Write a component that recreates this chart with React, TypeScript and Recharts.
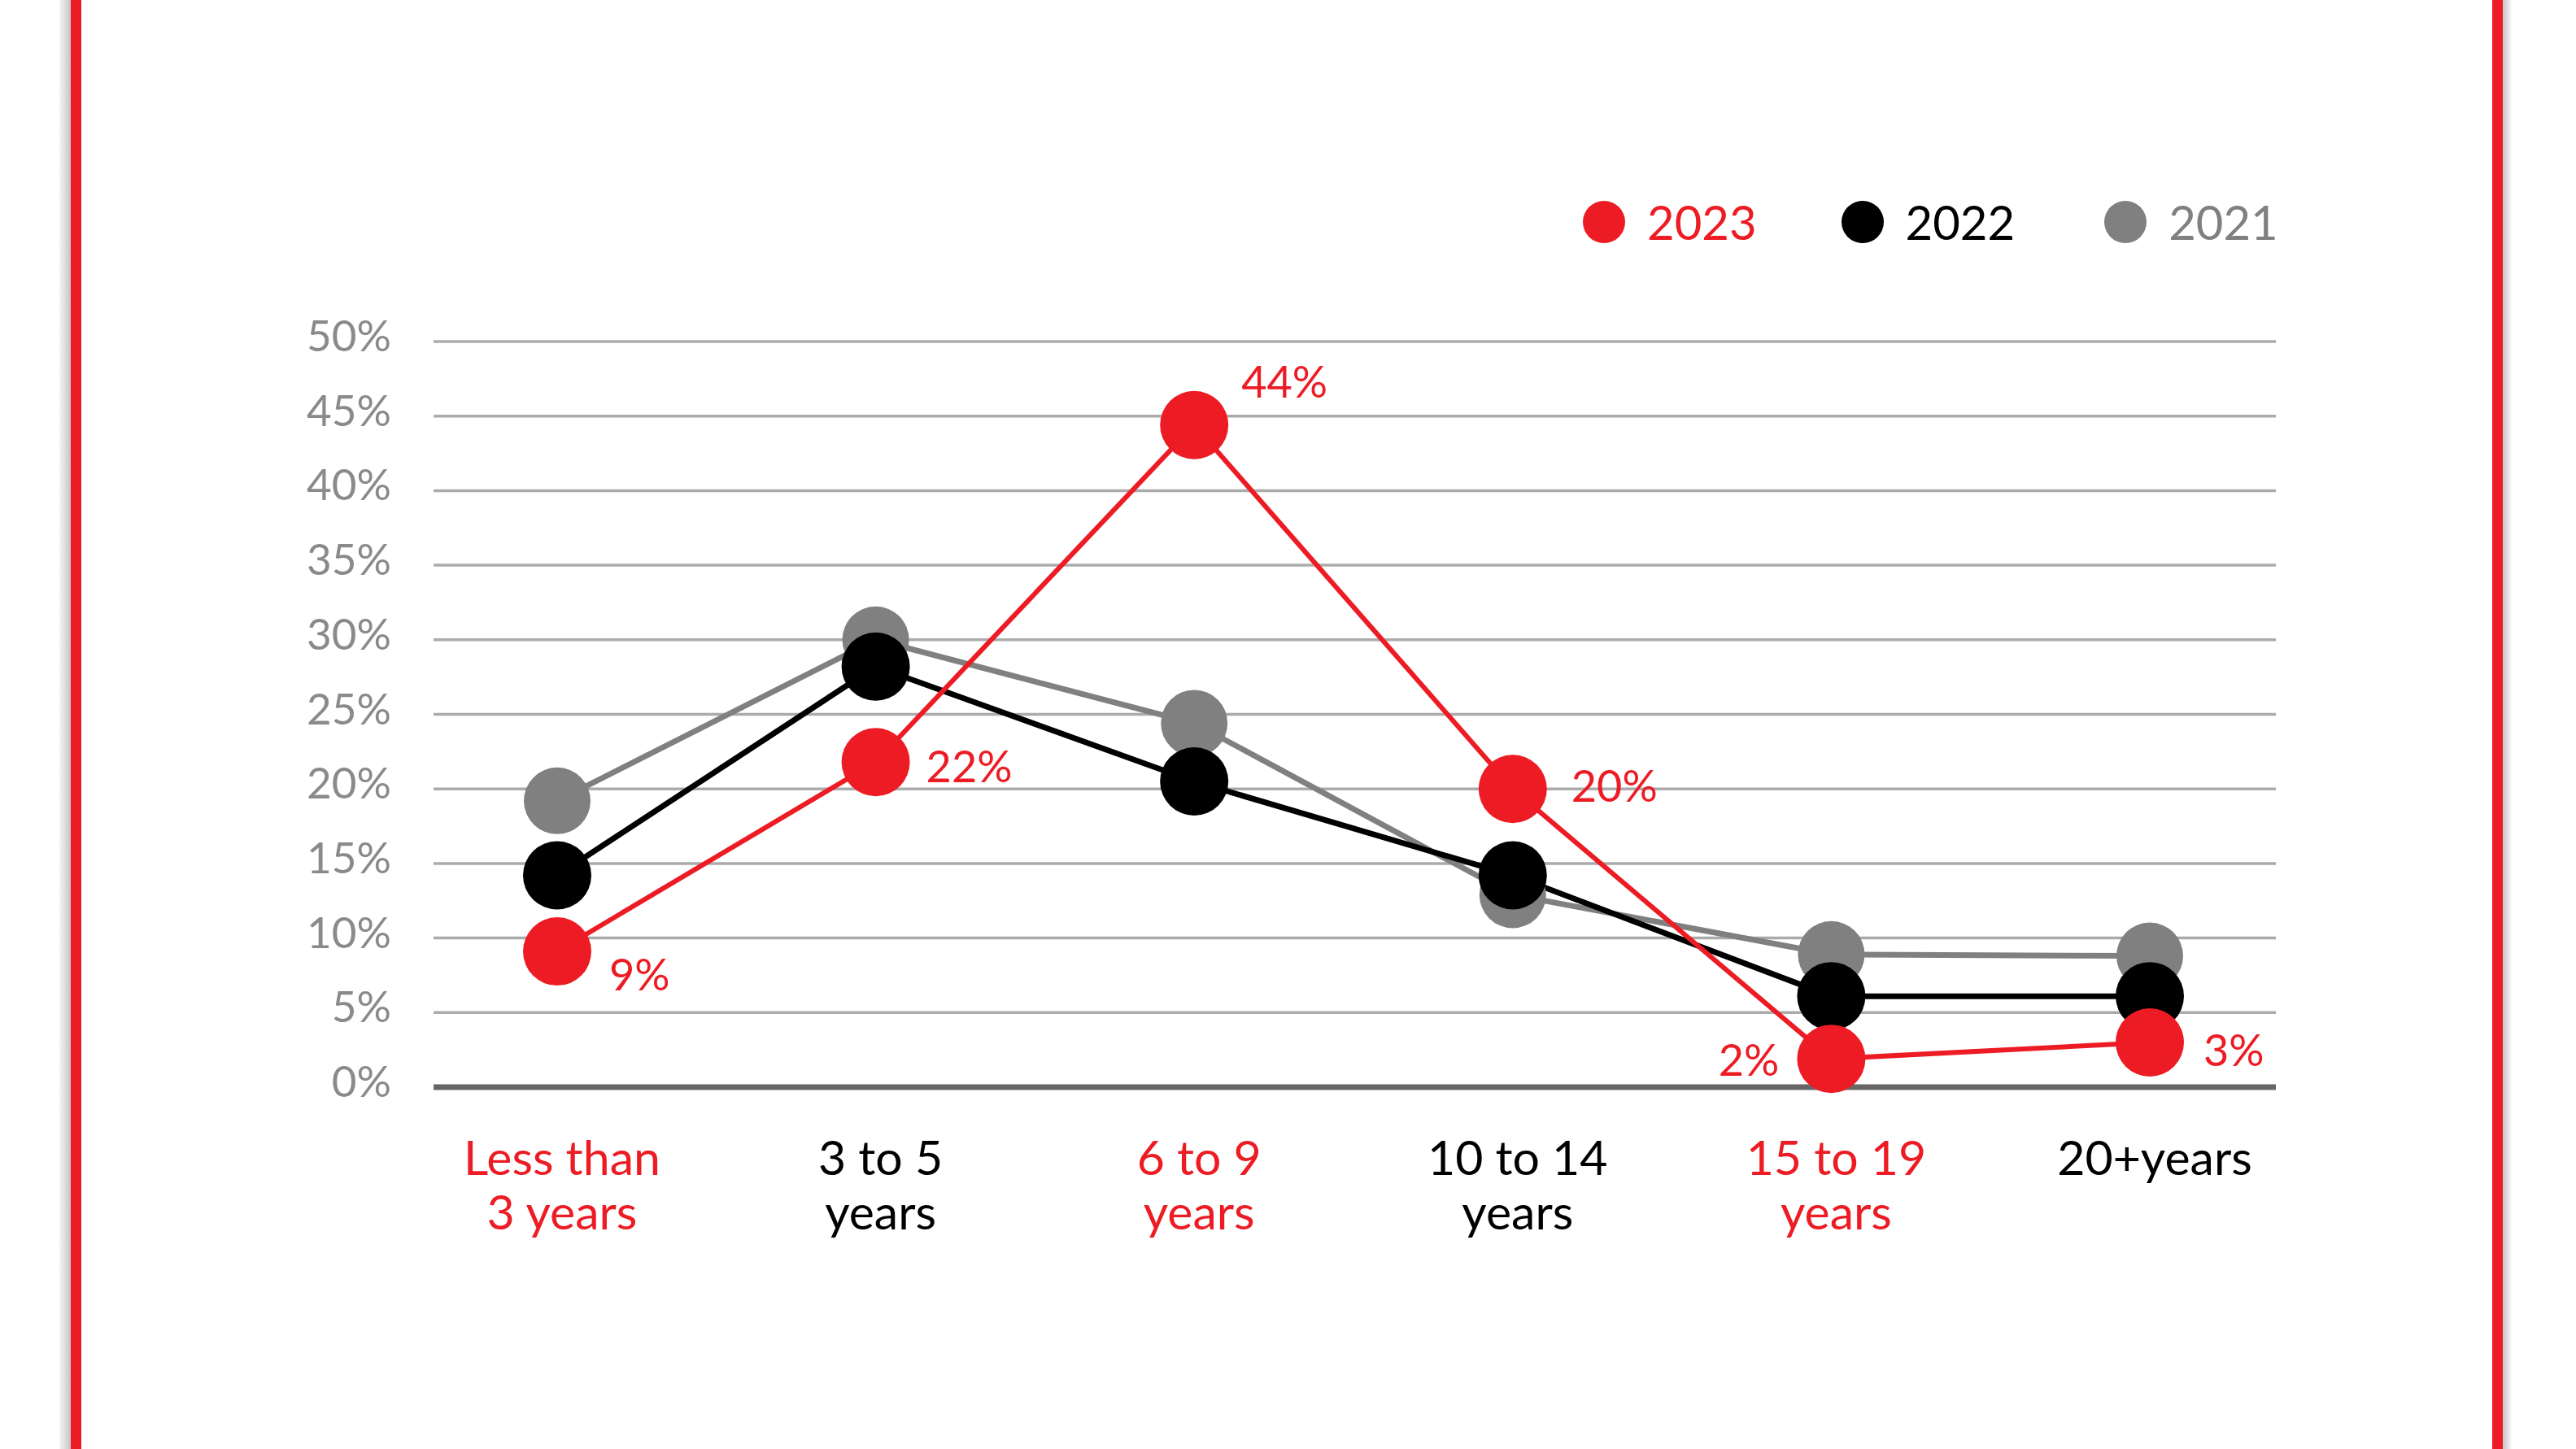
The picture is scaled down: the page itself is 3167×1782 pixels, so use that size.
import { LineChart, Line, XAxis, YAxis, CartesianGrid, Legend, LabelList } from "recharts"

// tenure buckets on the x axis
const categories = ["Less than 3 years", "3 to 5 years", "6 to 9 years", "10 to 14 years", "15 to 19 years", "20+years"]
const tickLines = [["Less than", "3 years"], ["3 to 5", "years"], ["6 to 9", "years"], ["10 to 14", "years"], ["15 to 19", "years"], ["20+years"]]

// share of respondents, %
const values2023 = [9.1, 21.8, 44.4, 20.0, 1.9, 3.0]
const values2022 = [14.2, 28.2, 20.5, 14.2, 6.1, 6.1]
const values2021 = [19.2, 30.0, 24.4, 12.9, 8.9, 8.8]

const yTicks = [0, 5, 10, 15, 20, 25, 30, 35, 40, 45, 50]

const RED = "#ED1C24"
const BLACK = "#000000"
const GREY = "#808080"
const FONT = "Lato, 'Open Sans', sans-serif"

const tickColors = [RED, BLACK, RED, BLACK, RED, BLACK]
// where each 2023 value label sits relative to its dot
const labelPos = [
  { dx: 64, dy: 48, anchor: "start" },
  { dx: 62, dy: 25, anchor: "start" },
  { dx: 58, dy: -34, anchor: "start" },
  { dx: 72, dy: 16, anchor: "start" },
  { dx: -64, dy: 21, anchor: "end" },
  { dx: 66, dy: 29, anchor: "start" },
]
const legendGaps = [104, 110, 0]

const data = categories.map((cat, i) => ({
  cat,
  y2023: values2023[i],
  y2022: values2022[i],
  y2021: values2021[i],
}))

function XTick(props: any) {
  const { x, y, payload } = props
  const i = payload.index
  return (
    <text textAnchor="middle" fill={tickColors[i]} fontFamily={FONT} fontSize={59}>
      {tickLines[i].map((l, j) => (
        <tspan key={j} x={x + 6} y={y + 108 + j * 67}>
          {l}
        </tspan>
      ))}
    </text>
  )
}

function YTick(props: any) {
  const { x, y, payload } = props
  return (
    <text x={x} y={y + 12} textAnchor="end" fill="#8a8a8a" fontFamily={FONT} fontSize={53}>
      {payload.value}%
    </text>
  )
}

function RedLabel(props: any) {
  const { x, y, value, index } = props
  const p = labelPos[index]
  return (
    <text x={x + p.dx} y={y + p.dy} textAnchor={p.anchor} fill={RED} fontFamily={FONT} fontSize={54}>
      {Math.round(value)}%
    </text>
  )
}

function LegendContent(props: any) {
  const items = [...(props.payload || [])].reverse()
  return (
    <div style={{ display: "flex", alignItems: "center", fontFamily: FONT, fontSize: 58 }}>
      {items.map((p: any, i: number) => (
        <div key={p.value} style={{ display: "flex", alignItems: "center", marginRight: legendGaps[i] }}>
          <span style={{ display: "inline-block", width: 52, height: 52, borderRadius: "50%", background: p.color, marginRight: 27 }} />
          <span style={{ color: p.color, lineHeight: 1 }}>{p.value}</span>
        </div>
      ))}
    </div>
  )
}

export default function App() {
  return (
    <div style={{ position: "absolute", top: 0, left: 0, width: 3167, height: 1782, background: "#fff", overflow: "hidden" }}>
      <div style={{ position: "absolute", left: 73, top: 0, width: 14, height: 1782, background: "linear-gradient(to right, #f4f4f6, #c4c4c6)" }} />
      <div style={{ position: "absolute", left: 87, top: 0, width: 13, height: 1782, background: RED }} />
      <div style={{ position: "absolute", left: 3064, top: 0, width: 13, height: 1782, background: RED }} />
      <div style={{ position: "absolute", left: 3077, top: 0, width: 10, height: 1782, background: "linear-gradient(to right, #c4c4c6, #f4f4f6)" }} />
      <LineChart width={3167} height={1782} data={data} margin={{ top: 420, right: 369, left: 413, bottom: 245 }}>
        <CartesianGrid vertical={false} stroke="#ababab" strokeWidth={3.5} />
        <XAxis
          dataKey="cat"
          interval={0}
          padding={{ left: 152, right: 155 }}
          height={200}
          tickLine={false}
          tickSize={0}
          tickMargin={0}
          axisLine={{ stroke: "#666666", strokeWidth: 7 }}
          tick={XTick}
        />
        <YAxis
          domain={[0, 50]}
          ticks={yTicks}
          width={120}
          axisLine={false}
          tickLine={false}
          tickSize={0}
          tickMargin={52}
          tick={YTick}
        />
        <Legend
          layout="vertical"
          align="center"
          verticalAlign="middle"
          content={LegendContent}
          wrapperStyle={{ left: 1946, top: 244, width: "auto", height: "auto" }}
        />
        <Line dataKey="y2021" name="2021" stroke={GREY} strokeWidth={7} dot={{ r: 41, fill: GREY, stroke: "none" }} activeDot={false} isAnimationActive={false} />
        <Line dataKey="y2022" name="2022" stroke={BLACK} strokeWidth={7} dot={{ r: 42, fill: BLACK, stroke: "none" }} activeDot={false} isAnimationActive={false} />
        <Line dataKey="y2023" name="2023" stroke={RED} strokeWidth={6} dot={{ r: 42, fill: RED, stroke: "none" }} activeDot={false} isAnimationActive={false}>
          <LabelList dataKey="y2023" content={RedLabel} />
        </Line>
      </LineChart>
    </div>
  )
}
